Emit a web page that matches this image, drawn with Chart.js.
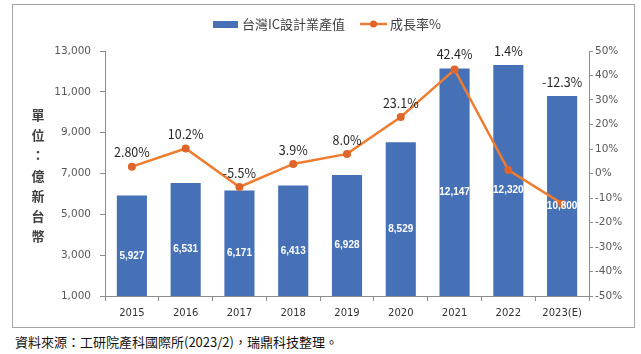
<!DOCTYPE html>
<html lang="zh-TW">
<head>
<meta charset="utf-8">
<script src="https://cdn.jsdelivr.net/npm/chart.js@4"></script>
<style>
    body { margin: 0; background: #fff; }
    #wrap { position: relative; width: 641px; height: 354px; overflow: hidden; }
    #frame { position: absolute; left: 12px; top: 4px; width: 621px; height: 322px; border: 1px solid #a6a6a6; }
    #note { position: absolute; left: 15px; top: 333px; font: 13px "Noto Sans CJK TC"; color: #111; white-space: nowrap; line-height: 18px; }
    canvas { position: absolute; left: 0; top: 0; }
</style>
</head>
<body>
<div id="wrap">
    <div id="frame"></div>
    <div id="note" lang="zh-TW">資料來源：工研院產科國際所(2023/2)，瑞鼎科技整理。</div>
    <canvas id="chart" width="641" height="354"></canvas>
</div>
<script>
// podaci
const years = ['2015', '2016', '2017', '2018', '2019', '2020', '2021', '2022', '2023(E)'];
const output = [5927, 6531, 6171, 6413, 6928, 8529, 12147, 12320, 10800];
const growth = [2.8, 10.2, -5.5, 3.9, 8.0, 23.1, 42.4, 1.4, -12.3];
const growthText = ['2.80%', '10.2%', '-5.5%', '3.9%', '8.0%', '23.1%', '42.4%', '1.4%', '-12.3%'];
const outputTicks = { min: 1000, max: 13000, step: 2000 };
const growthTicks = { min: -50, max: 50, step: 10 };
const barName = '台灣IC設計業產值';
const lineName = '成長率%';
const yTitle = '單位：億新台幣';

const BLUE = '#4671b6';
const ORANGE = '#ee7d31';
const AXIS = '#8c8c8c';
const TICK_TEXT = '#595959';

// natpisi na stupcima i tocki
const labelPlugin = {
    id: 'valueLabels',
    afterDatasetsDraw(chart) {
        const ctx = chart.ctx;
        const lineMeta = chart.getDatasetMeta(0);
        const barMeta = chart.getDatasetMeta(1);
        ctx.save();
        ctx.textAlign = 'center';
        ctx.textBaseline = 'middle';
        barMeta.data.forEach((bar, i) => {
            ctx.fillStyle = '#ffffff';
            ctx.font = 'bold 10px "Liberation Sans"';
            ctx.fillText(output[i].toLocaleString('en-US'), bar.x, (bar.y + bar.base) / 2);
            const pt = lineMeta.data[i];
            const anchor = Math.min(pt.y, bar.y);
            ctx.fillStyle = '#262626';
            ctx.font = '12.5px "Noto Sans CJK TC"';
            ctx.fillText(growthText[i], pt.x, anchor - 14);
        });
        ctx.restore();
    }
};

// legenda i naslov osi
const decorPlugin = {
    id: 'decor',
    afterDraw(chart) {
        const ctx = chart.ctx;
        ctx.save();
        ctx.textBaseline = 'middle';
        ctx.textAlign = 'left';
        ctx.font = '13px "Noto Sans CJK TC"';
        ctx.fillStyle = BLUE;
        ctx.fillRect(213, 21, 25, 7);
        ctx.fillStyle = '#404040';
        ctx.fillText(barName, 242, 24);
        ctx.strokeStyle = ORANGE;
        ctx.lineWidth = 2.5;
        ctx.beginPath();
        ctx.moveTo(360, 24);
        ctx.lineTo(387, 24);
        ctx.stroke();
        ctx.fillStyle = '#e0652b';
        ctx.beginPath();
        ctx.arc(373.5, 24, 3.5, 0, Math.PI * 2);
        ctx.fill();
        ctx.fillStyle = '#404040';
        ctx.fillText(lineName, 390, 24);

        ctx.textAlign = 'center';
        ctx.font = 'bold 13px "Noto Sans CJK TC"';
        yTitle.split('').forEach((ch, i) => {
            ctx.fillText(ch, 38, 115 + i * 20.2);
        });
        ctx.restore();
    }
};

new Chart(document.getElementById('chart'), {
    type: 'bar',
    data: {
        labels: years,
        datasets: [{
            type: 'line',
            label: lineName,
            data: growth,
            yAxisID: 'y1',
            borderColor: ORANGE,
            borderWidth: 2.5,
            pointRadius: 4,
            pointBackgroundColor: '#e0652b',
            pointBorderColor: '#e0652b',
            pointBorderWidth: 0,
            tension: 0,
            order: 0
        }, {
            type: 'bar',
            label: barName,
            data: output,
            yAxisID: 'y',
            backgroundColor: BLUE,
            barPercentage: 0.56,
            categoryPercentage: 1,
            order: 1
        }]
    },
    options: {
        responsive: false,
        animation: false,
        devicePixelRatio: 1,
        layout: { padding: { top: 51, left: 0, right: 0, bottom: 0 } },
        plugins: { legend: { display: false }, tooltip: { enabled: false } },
        scales: {
            x: {
                afterFit: (s) => { s.height = 58; },
                border: { display: true, color: AXIS },
                grid: { display: true, offset: true, drawOnChartArea: false, drawTicks: true, tickLength: 5, color: AXIS },
                ticks: { color: '#333333', font: { family: 'DejaVu Sans', size: 10 }, padding: 6 }
            },
            y: {
                position: 'left',
                min: outputTicks.min,
                max: outputTicks.max,
                afterFit: (s) => { s.width = 105; },
                border: { display: true, color: AXIS },
                grid: { drawOnChartArea: false, drawTicks: true, tickLength: 5, color: AXIS },
                ticks: { stepSize: outputTicks.step, color: TICK_TEXT, font: { family: 'DejaVu Sans', size: 10.5 }, padding: 9 }
            },
            y1: {
                position: 'right',
                min: growthTicks.min,
                max: growthTicks.max,
                afterFit: (s) => { s.width = 52; },
                border: { display: true, color: AXIS },
                grid: { drawOnChartArea: false, drawTicks: true, tickLength: 4, color: AXIS },
                ticks: { stepSize: growthTicks.step, color: TICK_TEXT, font: { family: 'DejaVu Sans', size: 10.5 }, padding: 2,
                    callback: (v) => v + '%' }
            }
        }
    },
    plugins: [labelPlugin, decorPlugin]
});
</script>
</body>
</html>
